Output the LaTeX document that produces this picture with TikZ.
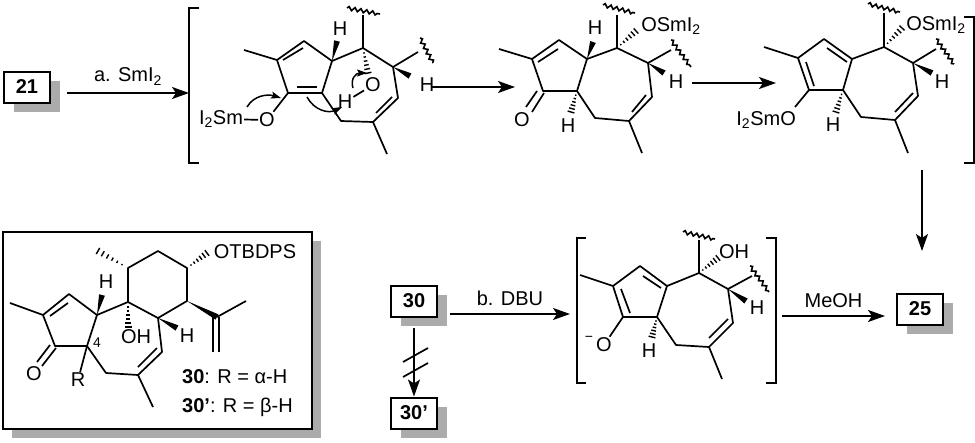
\documentclass[tikz,border=0pt]{standalone}
\usepackage{fontspec}
\setmainfont{Liberation Sans}
\usetikzlibrary{arrows.meta,calc,shadows,decorations.pathmorphing}

\newcommand{\wedgebond}[2]{\fill (#1) -- ($(#2)!3pt!90:(#1)$) -- ($(#2)!3pt!-90:(#1)$) -- cycle;}
\newcommand{\hashbond}[2]{\foreach \hs in {0.2,0.36,0.52,0.68,0.84,1}{
  \coordinate (hc) at ($(#1)!\hs!(#2)$);
  \draw[line width=1.4pt] ($(hc)!\hs*3.5pt!90:(#1)$) -- ($(hc)!\hs*3.5pt!-90:(#1)$);}}

\begin{document}
\begin{tikzpicture}[x=1pt,y=-1pt,
  bond/.style ={line width=1.7pt, line join=round},
  bracket/.style ={line width=1.9pt},
  wavy/.style ={line width=1.6pt, decorate, decoration={snake, amplitude=1.8pt, segment length=6pt}},
  rxn/.style ={line width=1.8pt, -{Stealth[length=17pt, width=12pt, inset=4pt]}},
  curly/.style ={line width=1.5pt, -{Stealth[length=10pt, width=7pt, inset=2pt]}},
  lbl/.style ={inner sep=1pt, font=\fontsize{20}{22}\selectfont},
  compound/.style ={draw, line width=2pt, fill=white, minimum width=46pt, minimum height=31pt, inner sep=0pt,
    font=\fontsize{20}{22}\selectfont\bfseries,
    drop shadow={shadow xshift=10pt, shadow yshift=-9pt, fill=black!33, opacity=1}}]
 \useasboundingbox (0,0) rectangle (975,442);

 % compound boxes
 \node[compound] (box21) at (27,87) {21};
 \node[compound] (box30) at (414,301) {30};
 \node[compound] (box30p) at (414,413) {30'};
 \node[compound] (box25) at (920,309) {25};
 \node[draw, line width=2pt, fill=white, minimum width=309pt, minimum height=197pt,
   drop shadow={shadow xshift=9pt, shadow yshift=-9pt, fill=black!33, opacity=1}] (inset) at (157.5,330.5) {};

 % first intermediate
 \foreach \n/\x/\y in {me/244/50, c2/277/60, c3/304/41, c3a/332/61, c8/288/93, c8a/322/93, c4/363/48, c5/393/67,
   c6/398/98, c7/373/122, c9/341/121, me2/387/154, up/363/15, wa/347/8, wb/380/14, sd/418/52, wc/420/38, wd/433/63,
   tp/337/41, tq/410/76, hs/368/73, da/283/60, db/303/48, dc/297/87, dd/317/87, de/376/113, df/392/97}
   \coordinate (a\n) at (\x,\y);
 \node[lbl] (aSm) at (221,119) {I\textsubscript{2}Sm};
 \node[lbl] (aO) at (267,120) {O};
 \node[lbl] (aOb) at (373,85) {O};
 \node[lbl] (aHb) at (345,102) {H};
 \node[lbl] (aHa) at (340,29) {H};
 \node[lbl] (aHc) at (427,85) {H};
 \draw[bond] (ame) -- (ac2) -- (ac3) -- (ac3a) -- (ac8a) -- (ac8) -- (ac2);
 \draw[bond] (ac3a) -- (ac4) -- (ac5) -- (ac6) -- (ac7) -- (ac9) -- (ac8a);
 \draw[bond] (ac7) -- (ame2);
 \draw[bond] (ac4) -- (aup);
 \draw[bond] (ac5) -- (asd);
 \draw[bond] (ada) -- (adb);
 \draw[bond] (adc) -- (add);
 \draw[bond] (ade) -- (adf);
 \draw[bond] (ac8) -- (aO);
 \draw[bond] (aSm) -- (aO);
 \draw[bond] (aHb) -- (aOb);
 \draw[wavy] (awa) -- (awb);
 \draw[wavy] (awc) -- (awd);
 \wedgebond{ac3a}{atp}
 \wedgebond{ac5}{atq}
 \hashbond{ac4}{ahs}
 \coordinate (ca1) at (247,107);
 \coordinate (ca2) at (281,98);
 \coordinate (ca3) at (307,97);
 \coordinate (ca4) at (342,107);
 \coordinate (ca5) at (353,88);
 \coordinate (ca6) at (367,73);
 \draw[curly] (ca1) .. controls (254,95) and (268,94) .. (ca2);
 \draw[curly] (ca3) .. controls (314,110) and (328,114) .. (ca4);
 \draw[curly] (ca5) .. controls (350,79) and (356,73) .. (ca6);

 % ketone
 \foreach \n/\x/\y in {me/499/49, c2/532/59, c3/559/40, c3a/587/59, c8/543/91, c8a/577/91, c4/617/48, c5/648/63,
   c6/652/97, c7/629/121, c9/595/118, me2/642/153, up/617/15, wa/603/5, wb/635/13, sd/671/50, wc/671/40, wd/691/67,
   tp/593/42, tq/664/73, hs/571/112, ho/636/31, da/538/62, db/558/49, dc/632/112, dd/646/95,
   oa/544/93, ob/532/112, oc/537/91, od/526/107}
   \coordinate (b\n) at (\x,\y);
 \node[lbl] (bO) at (522,120) {O};
 \node[lbl] (bHa) at (595,28) {H};
 \node[lbl] (bHb) at (568,126) {H};
 \node[lbl] (bHc) at (676,82) {H};
 \node[lbl] (bOSm) at (671,26) {OSmI\textsubscript{2}};
 \draw[bond] (bme) -- (bc2) -- (bc3) -- (bc3a) -- (bc8a) -- (bc8) -- (bc2);
 \draw[bond] (bc3a) -- (bc4) -- (bc5) -- (bc6) -- (bc7) -- (bc9) -- (bc8a);
 \draw[bond] (bc7) -- (bme2);
 \draw[bond] (bc4) -- (bup);
 \draw[bond] (bc5) -- (bsd);
 \draw[bond] (bda) -- (bdb);
 \draw[bond] (bdc) -- (bdd);
 \draw[bond] (boa) -- (bob);
 \draw[bond] (boc) -- (bod);
 \draw[wavy] (bwa) -- (bwb);
 \draw[wavy] (bwc) -- (bwd);
 \wedgebond{bc3a}{btp}
 \wedgebond{bc5}{btq}
 \hashbond{bc8a}{bhs}
 \hashbond{bc4}{bho}

 % enolate
 \foreach \n/\x/\y in {me/764/47, c2/798/58, c3/824/39, c3a/852/59, c8/809/90, c8a/843/90, c4/884/47, c5/913/63,
   c6/918/96, c7/895/120, c9/861/117, me2/908/153, up/884/13, wa/868/4, wb/900/12, sd/936/49, wc/936/39, wd/954/64,
   tq/932/73, hs/836/112, ho/902/28, da/806/62, db/814/86, dc/827/48, dd/847/62, de/895/112, df/913/93}
   \coordinate (c\n) at (\x,\y);
 \node[lbl, anchor=east] (cO) at (797,120) {I\textsubscript{2}SmO};
 \node[lbl] (cHb) at (833,125) {H};
 \node[lbl] (cHc) at (942,82) {H};
 \node[lbl] (cOSm) at (936,25) {OSmI\textsubscript{2}};
 \draw[bond] (cme) -- (cc2) -- (cc3) -- (cc3a) -- (cc8a) -- (cc8) -- (cc2);
 \draw[bond] (cc3a) -- (cc4) -- (cc5) -- (cc6) -- (cc7) -- (cc9) -- (cc8a);
 \draw[bond] (cc7) -- (cme2);
 \draw[bond] (cc4) -- (cup);
 \draw[bond] (cc5) -- (csd);
 \draw[bond] (cda) -- (cdb);
 \draw[bond] (cdc) -- (cdd);
 \draw[bond] (cde) -- (cdf);
 \draw[bond] (cc8) -- (795,107);
 \draw[wavy] (cwa) -- (cwb);
 \draw[wavy] (cwc) -- (cwd);
 \wedgebond{cc5}{ctq}
 \hashbond{cc8a}{chs}
 \hashbond{cc4}{cho}

 % dienolate from 30
 \foreach \n/\x/\y in {me/580/275, c2/613/286, c3/640/266, c3a/667/286, c8/623/317, c8a/657/317, c4/699/273, c5/728/289,
   c6/733/323, c7/709/347, c9/676/345, me2/722/379, up/699/240, wa/683/232, wb/715/239, sd/752/276, wc/750/266, wd/769/292,
   tq/746/301, hs/652/337, ho/718/258, da/621/289, db/630/313, dc/643/276, dd/661/288, de/709/338, df/728/319}
   \coordinate (d\n) at (\x,\y);
 \node[lbl] (dO) at (604,345) {O};
 \node[lbl] (dMinus) at (589,339) {\fontsize{14}{14}\selectfont −};
 \node[lbl] (dHb) at (649,351) {H};
 \node[lbl] (dHc) at (757,308) {H};
 \node[lbl] (dOH) at (734,252) {OH};
 \draw[bond] (dme) -- (dc2) -- (dc3) -- (dc3a) -- (dc8a) -- (dc8) -- (dc2);
 \draw[bond] (dc3a) -- (dc4) -- (dc5) -- (dc6) -- (dc7) -- (dc9) -- (dc8a);
 \draw[bond] (dc7) -- (dme2);
 \draw[bond] (dc4) -- (dup);
 \draw[bond] (dc5) -- (dsd);
 \draw[bond] (dda) -- (ddb);
 \draw[bond] (ddc) -- (ddd);
 \draw[bond] (dde) -- (ddf);
 \draw[bond] (dc8) -- (dO);
 \draw[wavy] (dwa) -- (dwb);
 \draw[wavy] (dwc) -- (dwd);
 \wedgebond{dc5}{dtq}
 \hashbond{dc8a}{dhs}
 \hashbond{dc4}{dho}

 % inset structure
 \foreach \n/\x/\y in {me/10/303, c2/43/315, c3/69/294, c3a/97/315, c8/55/346, c4/87/346, c5/128/302, c6/158/318,
   c7/162/352, c9/138/375, c10/106/373, me2/153/407, c11/128/268, c12/158/251, c13/187/268, c14/187/301,
   me3/98/251, ho/207/253, iso/217/317, me4/246/301, cha/213/317, chb/213/352, cca/219/317, ccb/219/352,
   tp/102/295, tq/177/328, hs/128/327, da/50/316, db/68/303, dc/138/367, dd/157/348,
   oa/56/348, ob/42/366, oc/50/345, od/37/362}
   \coordinate (e\n) at (\x,\y);
 \node[lbl] (eOTBDPS) at (255,252) {OTBDPS};
 \node[lbl] (eHa) at (106,282) {H};
 \node[lbl] (eOH) at (136,337) {OH};
 \node[lbl] (eHb) at (187,336) {H};
 \node[lbl] (eO) at (34,374) {O};
 \node[lbl] (eR) at (78,380) {R};
 \node[lbl, font=\fontsize{14}{16}\selectfont] (eFour) at (97,343) {4};
 \node[lbl, anchor=west] (ekeya) at (181,377) {\textbf{30}: R = α-H};
 \node[lbl, anchor=west] (ekeyb) at (181,407) {\textbf{30'}: R = β-H};
 \draw[bond] (eme) -- (ec2) -- (ec3) -- (ec3a) -- (ec4) -- (ec8) -- (ec2);
 \draw[bond] (ec3a) -- (ec5) -- (ec6) -- (ec7) -- (ec9) -- (ec10) -- (ec4);
 \draw[bond] (ec9) -- (eme2);
 \draw[bond] (ec5) -- (ec11) -- (ec12) -- (ec13) -- (ec14) -- (ec6);
 \draw[bond] (eiso) -- (eme4);
 \draw[bond] (echa) -- (echb);
 \draw[bond] (ecca) -- (eccb);
 \draw[bond] (eda) -- (edb);
 \draw[bond] (edc) -- (edd);
 \draw[bond] (eoa) -- (eob);
 \draw[bond] (eoc) -- (eod);
 \draw[bond] (ec4) -- (eR);
 \wedgebond{ec3a}{etp}
 \wedgebond{ec6}{etq}
 \wedgebond{ec14}{eiso}
 \hashbond{ec5}{ehs}
 \hashbond{ec11}{eme3}
 \hashbond{ec13}{eho}

 % brackets
 \draw[bracket] (199,8) -- (189,8) -- (189,163) -- (199,163);
 \draw[bracket] (964,17) -- (974,17) -- (974,163) -- (964,163);
 \draw[bracket] (586,238) -- (577,238) -- (577,383) -- (586,383);
 \draw[bracket] (766,238) -- (776,238) -- (776,383) -- (766,383);

 % arrows and reagents
 \coordinate (s1) at (67,93);
 \coordinate (e1) at (189,93);
 \coordinate (s2) at (432,87);
 \coordinate (e2) at (515,87);
 \coordinate (s3) at (692,83);
 \coordinate (e3) at (776,83);
 \coordinate (s4) at (922,170);
 \coordinate (e4) at (922,251);
 \coordinate (s5) at (450,314);
 \coordinate (e5) at (570,314);
 \coordinate (s6) at (782,316);
 \coordinate (e6) at (885,316);
 \draw[rxn] (s1) -- node[lbl, above=6pt] (reagA) {a. SmI\textsubscript{2}} (e1);
 \draw[rxn] (s2) -- (e2);
 \draw[rxn] (s3) -- (e3);
 \draw[rxn] (s4) -- (e4);
 \draw[rxn] (s5) -- node[lbl, above=6pt] (reagB) {b. DBU} (e5);
 \draw[rxn] (s6) -- node[lbl, above=6pt] (reagC) {MeOH} (e6);
 \draw[rxn, shorten <=10pt] (box30) -- (box30p);
 \coordinate (na) at (403,362);
 \coordinate (nb) at (428,348);
 \coordinate (nc) at (403,377);
 \coordinate (nd) at (428,363);
 \draw[bond] (na) -- (nb);
 \draw[bond] (nc) -- (nd);
\end{tikzpicture}
\end{document}
